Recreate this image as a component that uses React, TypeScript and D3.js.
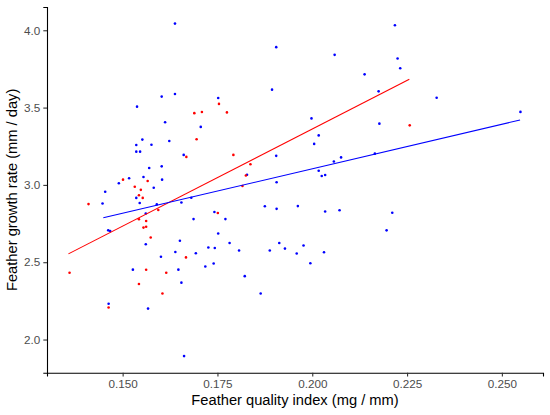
import React from 'react';
import * as d3 from 'd3';

// feather quality index (mg / mm) and growth rate (mm / day)
const blueQuality = [
  0.1638, 0.1603, 0.1538, 0.1638, 0.1612, 0.1552, 0.1536, 0.1576, 0.1623, 0.1536,
  0.1546, 0.157, 0.1603, 0.1555, 0.1517, 0.1604, 0.149, 0.1582, 0.1454, 0.1536,
  0.1545, 0.1447, 0.159, 0.1561, 0.1462, 0.1467, 0.1561, 0.1601, 0.1527, 0.1463,
  0.1567, 0.1662, 0.1752, 0.1706, 0.1661, 0.1828, 0.1894, 0.1681, 0.1655, 0.1742,
  0.1687, 0.1771, 0.1875, 0.1752, 0.1651, 0.1782, 0.1726, 0.1743, 0.1807, 0.1888,
  0.1639, 0.1693, 0.1718, 0.174, 0.1647, 0.1655, 0.1822, 0.1864, 0.1905, 0.2218,
  0.2059, 0.2225, 0.2232, 0.2138, 0.2175, 0.2328, 0.2549, 0.1998, 0.2177, 0.2017,
  0.2005, 0.1905, 0.2076, 0.2057, 0.2165, 0.2017, 0.2025, 0.2034, 0.1906, 0.1906,
  0.1962, 0.2034, 0.2072, 0.2211, 0.2196, 0.1913, 0.1928, 0.1977, 0.1959, 0.2031,
  0.1995
];
const blueGrowth = [
  4.043, 3.571, 3.506, 3.588, 3.405, 3.293, 3.258, 3.26, 3.284, 3.215,
  3.215, 3.109, 3.12, 3.051, 3.043, 3.034, 3.011, 2.982, 2.956, 2.916,
  2.883, 2.88, 2.874, 2.815, 2.706, 2.702, 2.616, 2.535, 2.452, 2.231,
  2.2, 1.893, 3.562, 3.375, 3.194, 3.066, 3.616, 2.917, 2.886, 2.825,
  2.779, 2.779, 2.862, 2.686, 2.639, 2.624, 2.595, 2.592, 2.576, 2.576,
  2.566, 2.558, 2.472, 2.492, 2.452, 2.368, 2.41, 2.298, 3.891, 4.032,
  3.841, 3.817, 3.754, 3.715, 3.605, 3.564, 3.472, 3.43, 3.396, 3.32,
  3.265, 3.188, 3.178, 3.151, 3.202, 3.092, 3.058, 3.064, 3.017, 2.845,
  2.863, 2.828, 2.836, 2.82, 2.706, 2.624, 2.588, 2.608, 2.556, 2.564,
  2.493
];
const redQuality = [
  0.1689, 0.1709, 0.1754, 0.1775, 0.1695, 0.1668, 0.1792, 0.1837, 0.1825, 0.1816,
  0.1501, 0.1566, 0.1532, 0.1548, 0.1543, 0.1553, 0.141, 0.1594, 0.1543, 0.1562,
  0.1555, 0.1562, 0.1574, 0.136, 0.1562, 0.1615, 0.1543, 0.1605, 0.1463, 0.1667,
  0.1751, 0.2257
];
const redGrowth = [
  3.464, 3.471, 3.524, 3.469, 3.295, 3.181, 3.194, 3.134, 3.061, 2.993,
  3.034, 3.025, 2.988, 2.968, 2.933, 2.916, 2.876, 2.838, 2.778, 2.767,
  2.724, 2.729, 2.66, 2.432, 2.451, 2.432, 2.359, 2.298, 2.207, 2.531,
  2.818, 3.385
];

// fitted lines (end points)
const redFitQuality = [0.1357, 0.2256];
const redFitGrowth = [2.554, 3.683];
const blueFitQuality = [0.1449, 0.2548];
const blueFitGrowth = [2.787, 3.42];

const xTicks = [0.15, 0.175, 0.2, 0.225, 0.25];
const yTicks = [2.0, 2.5, 3.0, 3.5, 4.0];

const xTitle = 'Feather quality index (mg / mm)';
const yTitle = 'Feather growth rate (mm / day)';

const FONT = '"Liberation Sans", Arial, sans-serif';

interface Pt { x: number; y: number }

const zip = (xs: number[], ys: number[]): Pt[] => xs.map((x, i) => ({ x, y: ys[i] }));

const App: React.FC = () => {
  const ref = React.useRef<SVGSVGElement>(null);

  React.useEffect(() => {
    const W = 550;
    const H = 415;
    const margin = { top: 7, right: 7, bottom: 42.3, left: 47 };

    const svg = d3.select(ref.current);
    svg.selectAll('*').remove();

    const blue = zip(blueQuality, blueGrowth);
    const red = zip(redQuality, redGrowth);
    const all = blue.concat(red);

    // ggplot style 5% expansion
    const pad = (ext: [number, number]): [number, number] => {
      const r = ext[1] - ext[0];
      return [ext[0] - r * 0.05, ext[1] + r * 0.05];
    };
    const x = d3
      .scaleLinear()
      .domain(pad(d3.extent(all, (d: Pt) => d.x) as [number, number]))
      .range([margin.left, W - margin.right]);
    const y = d3
      .scaleLinear()
      .domain(pad(d3.extent(all, (d: Pt) => d.y) as [number, number]))
      .range([H - margin.bottom, margin.top]);

    const bottom = H - margin.bottom;

    // points
    const drawPts = (data: Pt[], color: string) => {
      svg
        .append('g')
        .selectAll('circle')
        .data(data)
        .enter()
        .append('circle')
        .attr('cx', (d: Pt) => x(d.x))
        .attr('cy', (d: Pt) => y(d.y))
        .attr('r', 1.3)
        .attr('fill', color);
    };
    drawPts(blue, '#0000FF');
    drawPts(red, '#FF0000');

    // fit lines
    const line = d3
      .line<Pt>()
      .x((d: Pt) => x(d.x))
      .y((d: Pt) => y(d.y));
    svg
      .append('path')
      .datum(zip(redFitQuality, redFitGrowth))
      .attr('fill', 'none')
      .attr('stroke', '#FF0000')
      .attr('stroke-width', 1.1)
      .attr('d', line);
    svg
      .append('path')
      .datum(zip(blueFitQuality, blueFitGrowth))
      .attr('fill', 'none')
      .attr('stroke', '#0000FF')
      .attr('stroke-width', 1.1)
      .attr('d', line);

    // x axis
    const gx = svg
      .append('g')
      .attr('transform', `translate(0,${bottom})`)
      .call(
        d3
          .axisBottom(x)
          .tickValues(xTicks)
          .tickSize(3.7)
          .tickPadding(3)
          .tickFormat(d3.format('.3f'))
      );
    gx.select('.domain').attr('stroke', '#000').attr('stroke-width', 1.1);
    gx.selectAll('.tick line').attr('stroke', '#333333').attr('stroke-width', 1.1);
    gx.selectAll('.tick text')
      .attr('fill', '#4D4D4D')
      .style('font-family', FONT)
      .style('font-size', '11.7px');

    // y axis
    const gy = svg
      .append('g')
      .attr('transform', `translate(${margin.left},0)`)
      .call(
        d3
          .axisLeft(y)
          .tickValues(yTicks)
          .tickSize(3.7)
          .tickPadding(3)
          .tickFormat(d3.format('.1f'))
      );
    gy.select('.domain').attr('stroke', '#000').attr('stroke-width', 1.1);
    gy.selectAll('.tick line').attr('stroke', '#333333').attr('stroke-width', 1.1);
    gy.selectAll('.tick text')
      .attr('fill', '#4D4D4D')
      .style('font-family', FONT)
      .style('font-size', '11.7px');

    // titles
    svg
      .append('text')
      .attr('x', (margin.left + W - margin.right) / 2)
      .attr('y', 405)
      .attr('text-anchor', 'middle')
      .style('font-family', FONT)
      .style('font-size', '14.7px')
      .attr('fill', '#000')
      .text(xTitle);
    svg
      .append('text')
      .attr('transform', `translate(16.5,${(margin.top + bottom) / 2}) rotate(-90)`)
      .attr('text-anchor', 'middle')
      .style('font-family', FONT)
      .style('font-size', '14.7px')
      .attr('fill', '#000')
      .text(yTitle);
  }, []);

  return (
    <svg
      ref={ref}
      width={550}
      height={415}
      style={{ position: 'absolute', left: 0, top: 0, background: '#fff' }}
    />
  );
};

export default App;
